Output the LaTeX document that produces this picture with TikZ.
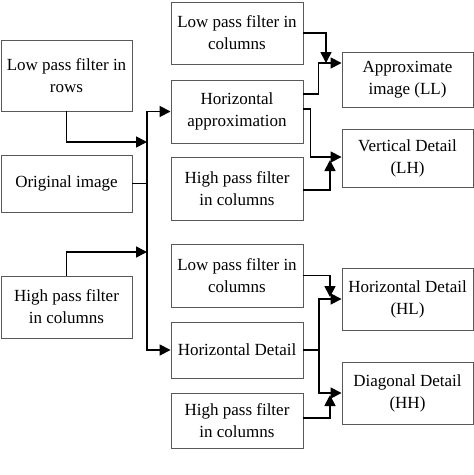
\documentclass[tikz,border=0pt]{standalone}
\usepackage{fontspec}
\setmainfont{Liberation Serif}
\usetikzlibrary{arrows.meta}

\begin{document}
\begin{tikzpicture}[x=1pt,y=-1pt,->,>={Triangle[length=11pt,width=11pt]},line width=1.7pt,main node/.style={draw=black!65,line width=0.9pt,minimum width=131pt,align=center,inner sep=2pt,font=\fontsize{17}{22}\selectfont}]
	\useasboundingbox (0,0) rectangle (474,475);
	
	\node[main node,minimum height=71pt] (1) at (66.5,75.5) {Low pass filter in\\rows};
	\node[main node,minimum height=57pt] (2) at (66.5,183.5) {Original image};
	\node[main node,minimum height=62pt] (3) at (66.5,307) {High pass filter\\in columns};
	
	\node[main node,minimum width=132pt,minimum height=62pt] (4) at (237,33) {Low pass filter in\\columns};
	\node[main node,minimum width=132pt,minimum height=63pt] (5) at (237,111.5) {Horizontal\\approximation};
	\node[main node,minimum width=132pt,minimum height=63pt] (6) at (237,188.5) {High pass filter\\in columns};
	\node[main node,minimum width=132pt,minimum height=63pt] (7) at (237,275.5) {Low pass filter in\\columns};
	\node[main node,minimum width=132pt,minimum height=56pt] (8) at (237,350) {Horizontal Detail};
	\node[main node,minimum width=132pt,minimum height=55pt] (9) at (237,420.5) {High pass filter\\in columns};
	
	\node[main node,minimum height=55pt] (10) at (407.5,79.5) {Approximate\\image (LL)};
	\node[main node,minimum height=58pt] (11) at (407.5,158) {Vertical Detail\\(LH)};
	\node[main node,minimum height=62pt] (12) at (407.5,299) {Horizontal Detail\\(HL)};
	\node[main node,minimum height=62pt] (13) at (407.5,393) {Diagonal Detail\\(HH)};
	
	\coordinate (b1) at (147,111.5);
	\coordinate (b2) at (147,350);
	\coordinate (j1) at (147,142);
	\coordinate (j2) at (147,252);
	\coordinate (a1) at (326,63);
	\coordinate (a2) at (330,160);
	\coordinate (a3) at (330,297);
	\coordinate (a4) at (330,395);
	\coordinate (h) at (319,350);
	
	\draw[<->] (5.west) -- (b1) -- (b2) -- (8.west);
	\draw (1.south) |- (j1);
	\draw[-] (2.east) -- (2.east -| b1);
	\draw (3.north) |- (j2);
	
	\draw (4.east) -| (a1);
	\draw ([yshift=17.5pt]5.east) -- ++(15,0) |- ([yshift=16.5pt]10.west);
	\draw ([yshift=2.5pt]5.east) -- ++(7,0) |- ([yshift=1pt]11.west);
	\draw ([yshift=-1.5pt]6.east) -| (a2);
	
	\draw (7.east) -| (a3);
	\draw[-] (8.east) -- (h);
	\draw (h) |- (12.west);
	\draw (h) |- (13.west);
	\draw ([yshift=2.5pt]9.east) -| (a4);
\end{tikzpicture}
\end{document}
